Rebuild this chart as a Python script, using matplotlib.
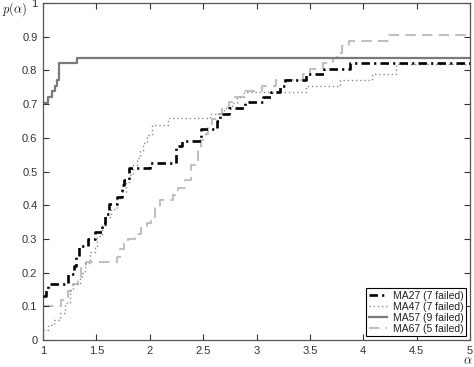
import matplotlib
matplotlib.use("Agg")
import matplotlib.pyplot as plt

plt.rcParams['font.family'] = ['Liberation Sans', 'DejaVu Sans']
plt.rcParams['mathtext.fontset'] = 'cm'

# ---- data (step functions: alpha, p(alpha)) ----
ma27_x = [1.00, 1.03, 1.05, 1.23, 1.29, 1.31, 1.34, 1.42, 1.49, 1.55, 1.58, 1.62, 1.69,
          1.74, 1.76, 1.81, 2.00, 2.245, 2.30, 2.48, 2.63, 2.66, 2.74, 2.89, 3.06, 3.14,
          3.22, 3.27, 3.46, 3.63, 3.88, 5.00]
ma27_y = [0.13, 0.15, 0.165, 0.195, 0.22, 0.25, 0.28, 0.30, 0.32, 0.345, 0.375, 0.405, 0.425,
          0.46, 0.475, 0.51, 0.525, 0.575, 0.59, 0.625, 0.65, 0.672, 0.687, 0.707, 0.722, 0.737,
          0.755, 0.771, 0.789, 0.804, 0.821, 0.821]

ma47_x = [1.00, 1.05, 1.10, 1.16, 1.21, 1.25, 1.28, 1.35, 1.37, 1.39, 1.44, 1.49, 1.51, 1.55,
          1.59, 1.64, 1.69, 1.74, 1.78, 1.81, 1.84, 1.88, 1.91, 1.94, 1.97, 2.02, 2.17, 2.56,
          2.70, 2.77, 2.82, 2.88, 3.46, 3.78, 4.08, 4.31, 5.00]
ma47_y = [0.03, 0.045, 0.06, 0.08, 0.11, 0.148, 0.165, 0.183, 0.20, 0.228, 0.26, 0.28, 0.31, 0.34,
          0.366, 0.39, 0.42, 0.44, 0.465, 0.49, 0.52, 0.54, 0.56, 0.585, 0.608, 0.638, 0.658, 0.672,
          0.687, 0.703, 0.72, 0.737, 0.755, 0.771, 0.789, 0.82, 0.82]

ma57_x = [1.00, 1.05, 1.08, 1.11, 1.134, 1.153, 1.315, 5.00]
ma57_y = [0.703, 0.722, 0.74, 0.754, 0.771, 0.821, 0.836, 0.836]

ma67_x = [1.00, 1.17, 1.23, 1.28, 1.33, 1.36, 1.40, 1.69, 1.72, 1.76, 1.80, 1.86, 1.92, 1.97,
          2.01, 2.05, 2.10, 2.22, 2.26, 2.33, 2.39, 2.45, 2.48, 2.53, 2.55, 2.58, 2.63, 2.68,
          2.74, 2.80, 2.87, 3.05, 3.18, 3.44, 3.50, 3.62, 3.72, 3.75, 3.80, 3.87, 4.24, 5.00]
ma67_y = [0.10, 0.12, 0.145, 0.165, 0.183, 0.213, 0.232, 0.245, 0.27, 0.285, 0.30, 0.316, 0.331, 0.346,
          0.366, 0.396, 0.415, 0.43, 0.45, 0.475, 0.52, 0.564, 0.593, 0.61, 0.63, 0.655, 0.672, 0.69,
          0.707, 0.72, 0.74, 0.755, 0.771, 0.789, 0.804, 0.821, 0.836, 0.851, 0.871, 0.886, 0.904, 0.904]

labels = ['MA27 (7 failed)', 'MA47 (7 failed)', 'MA57 (9 failed)', 'MA67 (5 failed)']
xticks = [1, 1.5, 2, 2.5, 3, 3.5, 4, 4.5, 5]
xticklabels = ['1', '1.5', '2', '2.5', '3', '3.5', '4', '4.5', '5']
yticks = [0, 0.1, 0.2, 0.3, 0.4, 0.5, 0.6, 0.7, 0.8, 0.9, 1]
yticklabels = ['0', '0.1', '0.2', '0.3', '0.4', '0.5', '0.6', '0.7', '0.8', '0.9', '1']

fig = plt.figure(figsize=(4.74, 3.67), dpi=100)
ax = fig.add_axes([43/474, 1 - 340/367, 427/474, 337/367])

ax.plot(ma27_x, ma27_y, drawstyle='steps-post', color='black', linestyle=(0, (3.2, 1.6, 0.8, 1.6)),
        linewidth=1.9, label=labels[0], zorder=4)
ax.plot(ma47_x, ma47_y, drawstyle='steps-post', color='#8c8c8c', linestyle=(0, (1, 2)), linewidth=1.0,
        label=labels[1], zorder=3)
ax.plot(ma57_x, ma57_y, drawstyle='steps-post', color='#7a7a7a', linestyle='-', linewidth=1.6,
        label=labels[2], zorder=2)
ax.plot(ma67_x, ma67_y, drawstyle='steps-post', color='#c0c0c0', linestyle=(0, (5, 3)), linewidth=1.5,
        label=labels[3], zorder=1)

ax.set_xlim(1, 5)
ax.set_ylim(0, 1)
ax.set_xticks(xticks)
ax.set_xticklabels(xticklabels)
ax.set_yticks(yticks)
ax.set_yticklabels(yticklabels)
ax.tick_params(direction='in', top=True, right=True, length=4, width=0.8, labelsize=8,
               colors='#333333', pad=4)
for s in ax.spines.values():
    s.set_color('#555555')
    s.set_linewidth(0.9)

leg = ax.legend(loc='lower right', fontsize=7.5, frameon=True, fancybox=False,
                edgecolor='black', framealpha=1, borderpad=0.25, labelspacing=0.1,
                handlelength=1.7, handletextpad=0.6, borderaxespad=0.35)
leg.get_frame().set_linewidth(0.8)
for t in leg.get_texts():
    t.set_color('#222222')

fig.text(2/474, 1 - 9/367, r'$p(\alpha)$', fontsize=9, ha='left', va='center', color='#222222')
fig.text(463/474, 1 - 361/367, r'$\alpha$', fontsize=9, ha='left', va='center', color='#222222')

fig.savefig('out.png', dpi=100)
